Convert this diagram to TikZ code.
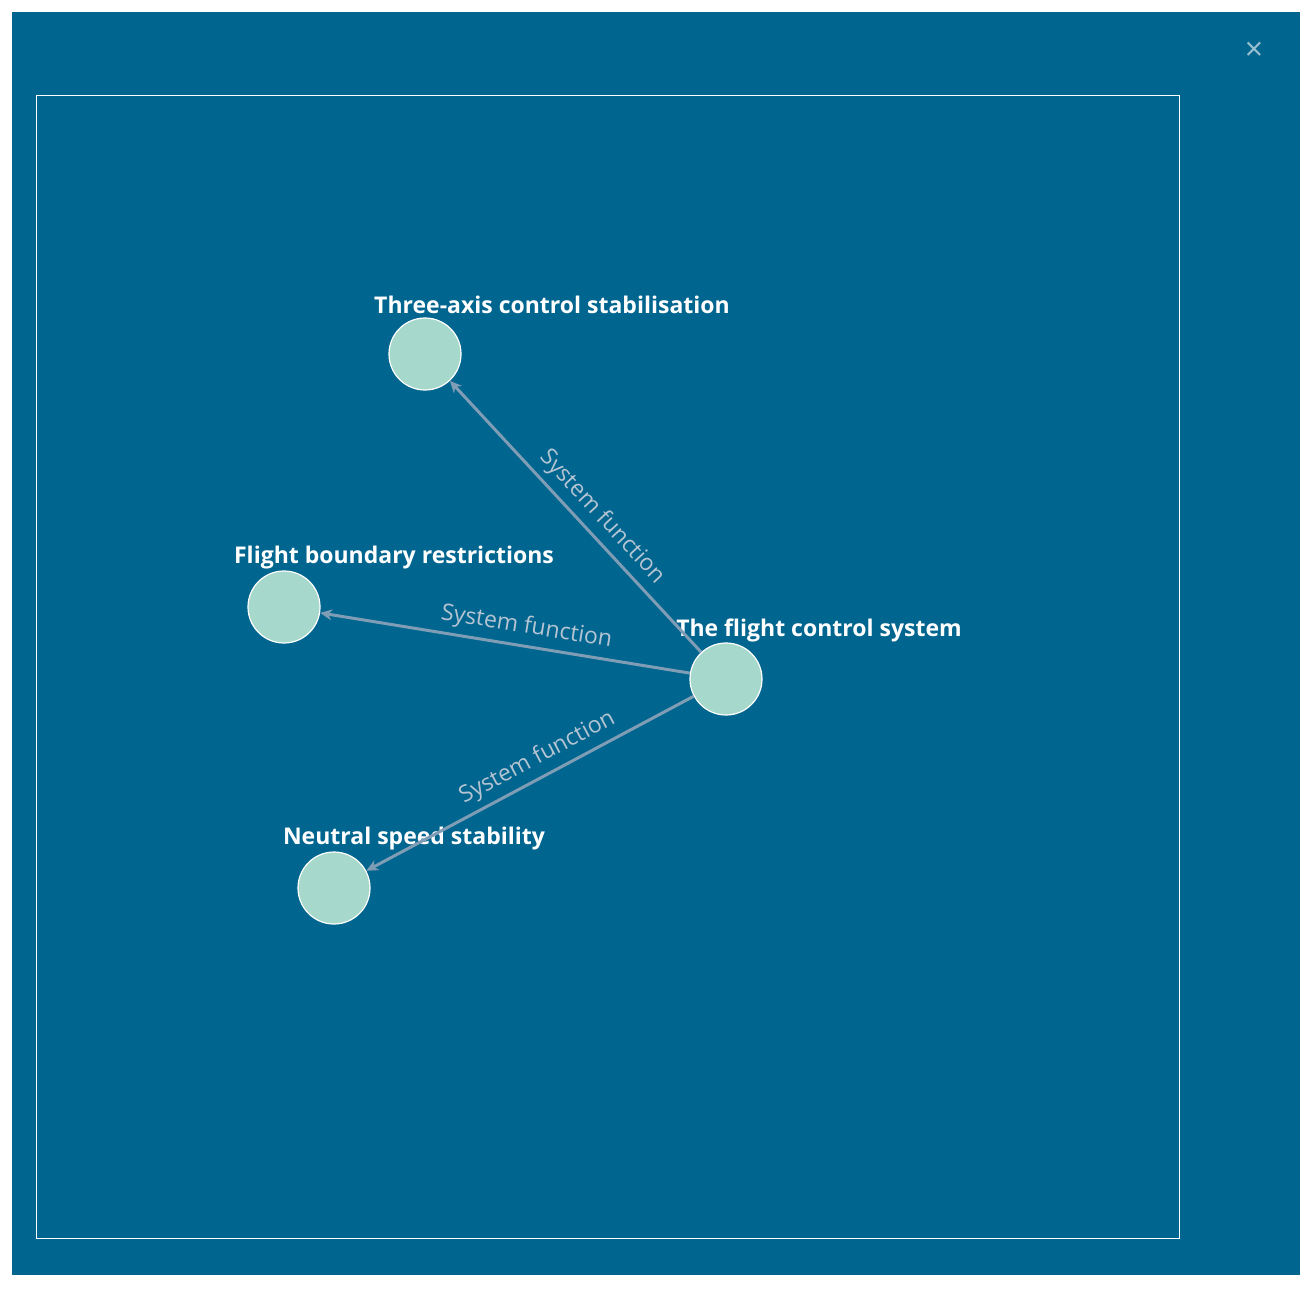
\documentclass[tikz,border=0pt]{standalone}
\usepackage{fontspec}
\setmainfont{Open Sans}
\usetikzlibrary{arrows.meta}
\definecolor{bg}{HTML}{00658F}
\definecolor{nodefill}{HTML}{A6D8CC}
\definecolor{edgec}{HTML}{7F9DB5}
\definecolor{elab}{HTML}{B4C4D2}
\tikzset{
  ent/.style={circle,fill=nodefill,draw=white,line width=1.2pt,minimum size=72pt,inner sep=0pt},
  lab/.style={text=white,font=\bfseries\fontsize{23}{26}\selectfont},
  rel/.style={draw=edgec,line width=3pt,-{Stealth[length=12pt,width=11pt]}},
  rlab/.style={text=elab,font=\fontsize{23}{26}\selectfont,sloped,above,midway,inner sep=6pt}
}
\begin{document}
\begin{tikzpicture}[x=1pt,y=-1pt]
\useasboundingbox (0,0) rectangle (1314,1293);
\fill[white] (0,0) rectangle (1314,1293);
\fill[bg] (12,12) rectangle (1300,1275);
\draw[white,line width=1pt] (36,95) rectangle (1179,1238);
\node[text=white!60!bg,font=\fontsize{32}{32}\selectfont] (close) at (1254,51) {×};
\node[ent] (fc) at (726,679) {};
\node[ent] (ta) at (425,354) {};
\node[ent] (fb) at (284,607) {};
\node[ent] (ns) at (334,888) {};
\node[lab] (fcl) at (819,630) {The flight control system};
\node[lab] (tal) at (552,305) {Three-axis control stabilisation};
\node[lab] (fbl) at (394,558) {Flight boundary restrictions};
\node[lab] (nsl) at (414,839) {Neutral speed stability};
\draw[rel] (fc) -- (ta) node[rlab,pos=0.45] {System function};
\draw[rel] (fc) -- (fb) node[rlab,pos=0.45] {System function};
\draw[rel] (fc) -- (ns) node[rlab,pos=0.45] {System function};
\end{tikzpicture}
\end{document}
